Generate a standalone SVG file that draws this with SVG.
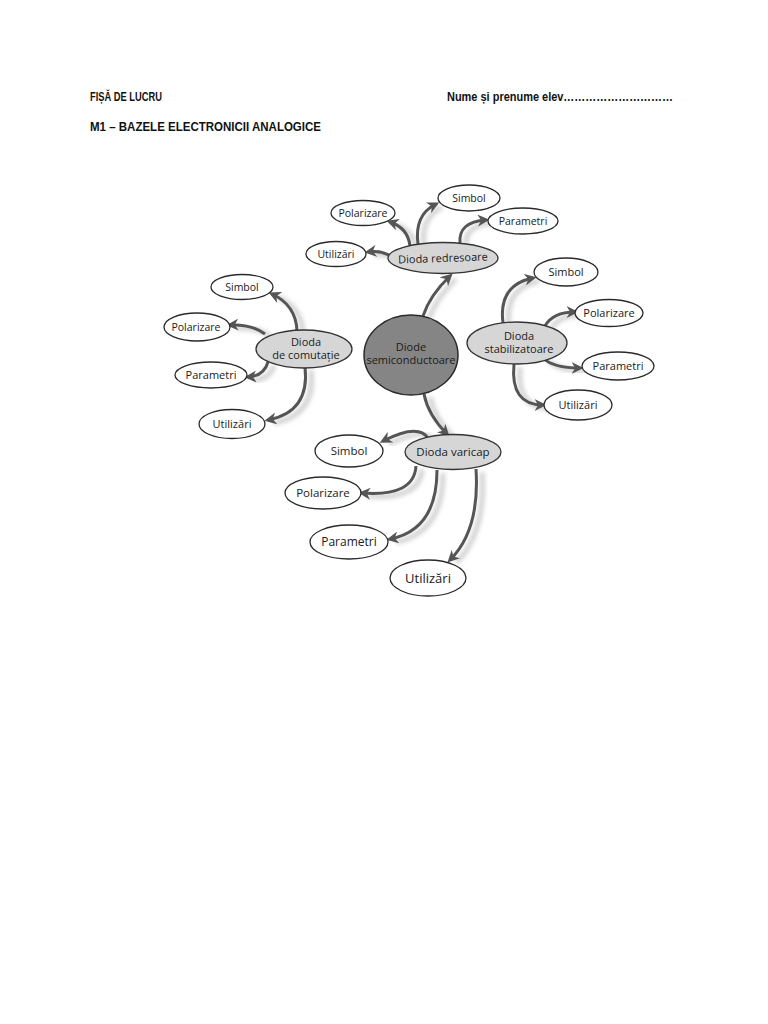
<svg xmlns="http://www.w3.org/2000/svg" width="768" height="1024" viewBox="0 0 768 1024">
<style>
.hdr{font-family:"Liberation Sans",Arial,sans-serif;font-weight:bold;font-size:12.5px;fill:#111}
.lbl{font-family:"Open Sans","Liberation Sans",sans-serif;fill:#1a1a1a;text-anchor:middle}
.leaf{fill:#fff;stroke:#2a2a2a;stroke-width:1.3}
.sub{fill:#d6d6d6;stroke:#333;stroke-width:1.3}
.ctr{fill:#858585;stroke:#2a2a2a;stroke-width:1.5}
.con path.s{fill:none;stroke:#d2d2d2;stroke-width:5;filter:url(#blur)}
.con path.a{fill:none;stroke:#555;stroke-width:3;marker-end:url(#ah)}
</style>
<defs>
<marker id="ah" viewBox="0 0 10 10" refX="7" refY="5" markerWidth="4" markerHeight="4" orient="auto">
<path d="M0,0 L10,5 L0,10 L3,5 z" fill="#555"/>
</marker>
<filter id="blur" x="-20%" y="-20%" width="140%" height="140%"><feGaussianBlur stdDeviation="2"/></filter>
</defs>
<rect width="768" height="1024" fill="#fff"/>
<text class="hdr" x="90" y="101" textLength="72" lengthAdjust="spacingAndGlyphs">FIȘĂ DE LUCRU</text>
<text class="hdr" x="447" y="101" textLength="226" lengthAdjust="spacingAndGlyphs">Nume și prenume elev…………………………</text>
<text class="hdr" x="90" y="131" textLength="231" lengthAdjust="spacingAndGlyphs">M1 – BAZELE ELECTRONICII ANALOGICE</text>
<g class="con" id="connectors">
<g transform="translate(6,3)">
<path class="s" d="M423,316 Q430,295 450,276"/>
<path class="s" d="M424,394 Q428,415 447,434"/>
<path class="s" d="M392,257 Q382,250 368,252"/>
<path class="s" d="M410,246 Q408,228 390,222"/>
<path class="s" d="M418,244 Q414,215 436,204"/>
<path class="s" d="M460,243 Q458,222 486,220"/>
<path class="s" d="M297,331 Q296,305 272,294"/>
<path class="s" d="M265,334 Q252,324 230,325"/>
<path class="s" d="M268,362 Q264,376 248,377"/>
<path class="s" d="M305,367 Q310,412 268,420"/>
<path class="s" d="M503,323 Q498,285 533,278"/>
<path class="s" d="M545,326 Q553,312 575,312"/>
<path class="s" d="M543,358 Q553,368 580,368"/>
<path class="s" d="M514,364 Q510,405 543,405"/>
<path class="s" d="M428,438 Q418,423 383,441"/>
<path class="s" d="M416,466 Q414,497 362,493"/>
<path class="s" d="M437,470 Q437,530 390,539"/>
<path class="s" d="M476,469 Q480,530 450,560"/>
</g>
<path class="a" d="M423,316 Q430,295 450,276"/>
<path class="a" d="M424,394 Q428,415 447,434"/>
<path class="a" d="M392,257 Q382,250 368,252"/>
<path class="a" d="M410,246 Q408,228 390,222"/>
<path class="a" d="M418,244 Q414,215 436,204"/>
<path class="a" d="M460,243 Q458,222 486,220"/>
<path class="a" d="M297,331 Q296,305 272,294"/>
<path class="a" d="M265,334 Q252,324 230,325"/>
<path class="a" d="M268,362 Q264,376 248,377"/>
<path class="a" d="M305,367 Q310,412 268,420"/>
<path class="a" d="M503,323 Q498,285 533,278"/>
<path class="a" d="M545,326 Q553,312 575,312"/>
<path class="a" d="M543,358 Q553,368 580,368"/>
<path class="a" d="M514,364 Q510,405 543,405"/>
<path class="a" d="M428,438 Q418,423 383,441"/>
<path class="a" d="M416,466 Q414,497 362,493"/>
<path class="a" d="M437,470 Q437,530 390,539"/>
<path class="a" d="M476,469 Q480,530 450,560"/>
</g>
<g id="center"><ellipse class="ctr" cx="411" cy="355" rx="47" ry="40"/><text class="lbl" x="411" y="351" font-size="11">Diode</text><text class="lbl" x="411" y="364" font-size="11">semiconductoare</text></g>
<g id="redresoare"><ellipse class="sub" cx="443" cy="258" rx="55" ry="15.5"/><text class="lbl" x="443" y="262" font-size="11" transform="rotate(-2 443 258)">Dioda redresoare</text></g>
<g id="r-simbol"><ellipse class="leaf" cx="469" cy="198" rx="31" ry="13"/><text class="lbl" x="469" y="202" font-size="10.5">Simbol</text></g>
<g id="r-parametri"><ellipse class="leaf" cx="523" cy="221" rx="35" ry="13"/><text class="lbl" x="523" y="225" font-size="10.5">Parametri</text></g>
<g id="r-polarizare"><ellipse class="leaf" cx="363" cy="213" rx="32" ry="12.5"/><text class="lbl" x="363" y="217" font-size="10.5">Polarizare</text></g>
<g id="r-utilizari"><ellipse class="leaf" cx="336" cy="254" rx="30" ry="12.5"/><text class="lbl" x="336" y="258" font-size="10.5">Utilizări</text></g>
<g id="comutatie"><ellipse class="sub" cx="304" cy="349" rx="48" ry="19"/><text class="lbl" x="306" y="346" font-size="11">Dioda</text><text class="lbl" x="306" y="359" font-size="11">de comutație</text></g>
<g id="c-simbol"><ellipse class="leaf" cx="242" cy="287" rx="31" ry="12.5"/><text class="lbl" x="242" y="291" font-size="10.5">Simbol</text></g>
<g id="c-polarizare"><ellipse class="leaf" cx="197" cy="327" rx="33" ry="14"/><text class="lbl" x="196" y="331" font-size="10.5">Polarizare</text></g>
<g id="c-parametri"><ellipse class="leaf" cx="211" cy="375" rx="36" ry="13"/><text class="lbl" x="211" y="379" font-size="11">Parametri</text></g>
<g id="c-utilizari"><ellipse class="leaf" cx="232" cy="424" rx="33" ry="14.5"/><text class="lbl" x="232" y="428" font-size="11">Utilizări</text></g>
<g id="stabilizatoare"><ellipse class="sub" cx="517" cy="343" rx="50" ry="21"/><text class="lbl" x="519" y="340" font-size="11">Dioda</text><text class="lbl" x="519" y="353" font-size="11">stabilizatoare</text></g>
<g id="s-simbol"><ellipse class="leaf" cx="566" cy="272" rx="32" ry="14"/><text class="lbl" x="566" y="276" font-size="11">Simbol</text></g>
<g id="s-polarizare"><ellipse class="leaf" cx="609" cy="313" rx="34" ry="13.5"/><text class="lbl" x="609" y="317" font-size="11">Polarizare</text></g>
<g id="s-parametri"><ellipse class="leaf" cx="618" cy="366" rx="36" ry="14"/><text class="lbl" x="618" y="370" font-size="11">Parametri</text></g>
<g id="s-utilizari"><ellipse class="leaf" cx="578" cy="405" rx="34" ry="15"/><text class="lbl" x="578" y="409" font-size="11">Utilizări</text></g>
<g id="varicap"><ellipse class="sub" cx="453" cy="452" rx="48" ry="17.5"/><text class="lbl" x="453" y="456" font-size="11.5">Dioda varicap</text></g>
<g id="v-simbol"><ellipse class="leaf" cx="349" cy="451" rx="34" ry="16"/><text class="lbl" x="349" y="455" font-size="11.5">Simbol</text></g>
<g id="v-polarizare"><ellipse class="leaf" cx="323" cy="493" rx="38" ry="16"/><text class="lbl" x="323" y="497" font-size="11.5">Polarizare</text></g>
<g id="v-parametri"><ellipse class="leaf" cx="349" cy="542" rx="39" ry="17"/><text class="lbl" x="349" y="546" font-size="12">Parametri</text></g>
<g id="v-utilizari"><ellipse class="leaf" cx="428" cy="578" rx="38" ry="18"/><text class="lbl" x="428" y="583" font-size="13">Utilizări</text></g>
</svg>
